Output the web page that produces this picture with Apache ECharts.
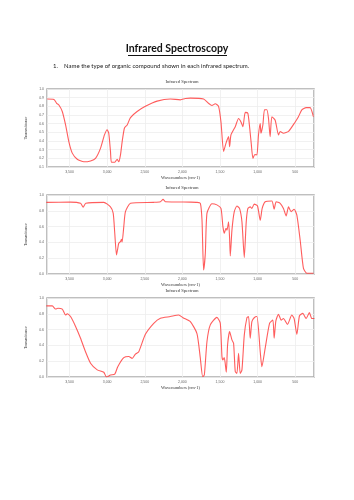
<!DOCTYPE html>
<html>
<head>
<meta charset="utf-8">
<script src="https://cdn.jsdelivr.net/npm/echarts@6/dist/echarts.min.js"></script>
<style>
  html, body { margin:0; padding:0; background:#fff; }
  #main { width:354px; height:500px; }
</style>
</head>
<body>
<div id="main"></div>
<script>
// spectrum 1: [wavenumber, transmittance]
const spectrum1 = [
  [3796,0.885],[3708,0.88],[3672,0.835],[3642,0.815],[3597,0.74],[3553,0.585],[3509,0.39],
  [3464,0.26],[3398,0.19],[3310,0.16],[3221,0.17],[3155,0.2],[3089,0.315],[3036,0.47],
  [3000,0.53],[2979,0.49],[2956,0.28],[2943,0.155],[2899,0.155],[2867,0.19],[2846,0.16],
  [2823,0.24],[2801,0.39],[2770,0.55],[2734,0.585],[2690,0.67],[2602,0.74],[2492,0.80],
  [2336,0.86],[2160,0.885],[2027,0.875],[1961,0.89],[1894,0.895],[1718,0.885],[1652,0.835],
  [1607,0.81],[1563,0.83],[1519,0.80],[1487,0.62],[1452,0.28],[1420,0.375],[1386,0.45],
  [1372,0.335],[1354,0.47],[1297,0.565],[1253,0.66],[1221,0.62],[1195,0.565],[1164,0.73],
  [1129,0.72],[1098,0.49],[1085,0.375],[1062,0.20],[1036,0.245],[1009,0.24],[988,0.47],
  [965,0.60],[956,0.49],[930,0.585],[908,0.76],[877,0.76],[855,0.66],[833,0.45],[810,0.68],
  [766,0.64],[722,0.47],[700,0.51],[656,0.49],[589,0.51],[500,0.62],[457,0.68],[412,0.76],
  [355,0.785],[302,0.785],[258,0.68]
];
const spectrum2 = [
  [3809,0.907],[3487,0.91],[3354,0.895],[3319,0.845],[3284,0.895],[3045,0.907],[2956,0.85],
  [2920,0.77],[2899,0.515],[2876,0.24],[2859,0.325],[2846,0.39],[2823,0.41],[2810,0.44],
  [2801,0.405],[2779,0.6],[2757,0.79],[2690,0.895],[2381,0.907],[2292,0.915],[2257,0.945],
  [2226,0.915],[1894,0.91],[1806,0.907],[1761,0.895],[1739,0.68],[1718,0.05],[1695,0.26],
  [1673,0.77],[1607,0.89],[1541,0.875],[1487,0.83],[1461,0.6],[1443,0.515],[1420,0.58],
  [1407,0.555],[1386,0.66],[1372,0.45],[1363,0.23],[1341,0.555],[1310,0.79],[1275,0.86],
  [1240,0.83],[1208,0.66],[1177,0.21],[1151,0.66],[1129,0.83],[1098,0.85],[1076,0.83],
  [1045,0.885],[1001,0.86],[965,0.68],[939,0.83],[899,0.915],[810,0.925],[780,0.82],
  [753,0.915],[700,0.895],[656,0.83],[620,0.735],[589,0.85],[554,0.79],[514,0.82],
  [478,0.745],[434,0.43],[390,0.07],[345,0.01],[258,0.01]
];
const spectrum3 = [
  [3809,0.9],[3730,0.9],[3686,0.86],[3655,0.87],[3597,0.86],[3553,0.785],[3531,0.80],
  [3487,0.765],[3420,0.64],[3354,0.49],[3288,0.32],[3221,0.175],[3132,0.09],[3045,0.06],
  [3009,0.0],[2956,0.025],[2899,0.035],[2859,0.13],[2779,0.245],[2713,0.26],[2668,0.235],
  [2624,0.29],[2580,0.32],[2492,0.54],[2381,0.68],[2292,0.745],[2160,0.765],[2049,0.785],
  [1991,0.75],[1894,0.70],[1806,0.55],[1761,0.235],[1730,0.005],[1708,0.025],[1673,0.45],
  [1629,0.66],[1541,0.755],[1496,0.68],[1474,0.26],[1461,0.215],[1443,0.245],[1416,0.06],
  [1399,0.405],[1372,0.575],[1341,0.47],[1319,0.425],[1297,0.07],[1275,0.045],[1253,0.30],
  [1231,0.045],[1208,0.09],[1177,0.53],[1142,0.75],[1120,0.765],[1098,0.49],[1076,0.70],
  [1045,0.75],[1009,0.765],[965,0.32],[943,0.13],[899,0.365],[841,0.68],[797,0.72],
  [780,0.49],[757,0.71],[722,0.795],[687,0.72],[656,0.74],[603,0.665],[545,0.785],
  [514,0.74],[478,0.54],[443,0.775],[399,0.805],[355,0.74],[311,0.815],[279,0.74],[245,0.74]
];
const spectra = [spectrum1, spectrum2, spectrum3];
const yRanges = [[0.1, 1.0, 0.1], [0, 1.0, 0.2], [0, 1.0, 0.2]];
const wnRange = [250, 3800];

const chart = echarts.init(document.getElementById('main'));

// plot boxes (top/bottom px)
const boxes = [[89, 167], [195, 274], [298, 377]];
const serif = '"Liberation Serif", "DejaVu Serif", serif';

const grids = boxes.map(([t, b]) => ({
  left: 47, right: 40, top: t, height: b - t,
  show: true, borderColor: '#aaa', borderWidth: 1.5, backgroundColor: '#fff'
}));

const xAxes = boxes.map((b, i) => ({
  type: 'value', gridIndex: i, inverse: true,
  min: wnRange[0], max: wnRange[1], splitNumber: 7,
  name: 'Wavenumbers (cm-1)', nameLocation: 'middle', nameGap: 8,
  nameTextStyle: { fontSize: 4.5, fontFamily: serif, color: '#333' },
  axisLine: { show: false }, axisTick: { show: false },
  axisLabel: { fontSize: 3.5, color: '#666', margin: 3, showMinLabel: false, showMaxLabel: false },
  splitLine: { lineStyle: { color: '#eee', width: 0.8 } }
}));

const yAxes = boxes.map((b, i) => ({
  type: 'value', gridIndex: i,
  min: yRanges[i][0], max: yRanges[i][1], interval: yRanges[i][2],
  name: 'Transmittance', nameLocation: 'middle', nameGap: 9,
  nameTextStyle: { fontSize: 4, fontFamily: serif, color: '#333' },
  axisLine: { show: false }, axisTick: { show: false },
  axisLabel: { fontSize: 3.5, color: '#666', margin: 3, formatter: v => v.toFixed(1) },
  splitLine: { lineStyle: { color: '#eee', width: 0.8 } }
}));

const titles = [
  { text: 'Infrared Spectroscopy', left: 'center', top: 43, padding: 0,
    textStyle: { fontFamily: 'Lato', fontWeight: 'bold', fontSize: 10.5, color: '#111' } },
  { text: '1.    Name the type of organic compound shown in each infrared spectrum.', left: 53, top: 63, padding: 0,
    textStyle: { fontFamily: 'Lato', fontWeight: 'normal', fontSize: 6, color: '#222' } }
].concat(boxes.map(([t]) => ({
  text: 'Infrared Spectrum', left: 182, textAlign: 'center', top: t - 10, padding: 0,
  textStyle: { fontFamily: serif, fontWeight: 'normal', fontSize: 4.5, color: '#333' }
})));

chart.setOption({
  animation: false,
  title: titles,
  grid: grids,
  xAxis: xAxes,
  yAxis: yAxes,
  graphic: [{
    type: 'line', shape: { x1: 128, y1: 55.5, x2: 227, y2: 55.5 },
    style: { stroke: '#111', lineWidth: 1 }
  }],
  series: spectra.map((d, i) => ({
    type: 'line', xAxisIndex: i, yAxisIndex: i, data: d,
    showSymbol: false, smooth: 0.2,
    lineStyle: { color: '#ff3535', width: 1.1, opacity: 0.8 }
  }))
});
</script>
</body>
</html>
